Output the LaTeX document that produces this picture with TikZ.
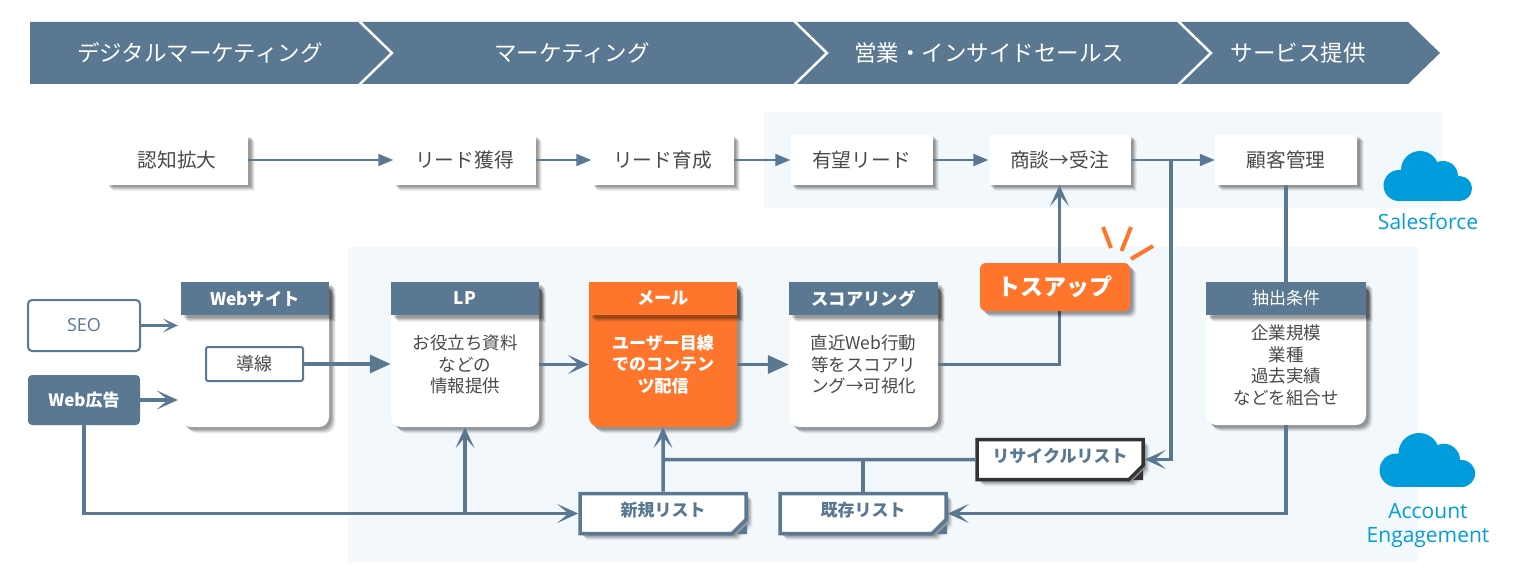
\documentclass[tikz,border=0pt]{standalone}
\usepackage{fontspec}
\setmainfont{Noto Sans CJK JP}
\newfontfamily\latinfont{Open Sans}
\usetikzlibrary{arrows.meta,shadows,shapes.misc}
\definecolor{slate}{HTML}{5A7892}
\definecolor{panelblue}{HTML}{F3F8FD}
\definecolor{accent}{HTML}{FF752B}
\definecolor{cloudblue}{HTML}{009CDB}
\definecolor{bodytext}{HTML}{4A4A4A}
\tikzstyle{softshadow} = [drop shadow={shadow xshift=6.5pt,shadow yshift=-6.5pt,opacity=.05,fill=black},
  drop shadow={shadow xshift=5.5pt,shadow yshift=-5.5pt,opacity=.08,fill=black},
  drop shadow={shadow xshift=4.5pt,shadow yshift=-4.5pt,opacity=.1,fill=black},
  drop shadow={shadow xshift=3.5pt,shadow yshift=-3.5pt,opacity=.12,fill=black},
  drop shadow={shadow xshift=2.5pt,shadow yshift=-2.5pt,opacity=.12,fill=black}]
\tikzstyle{arrow} = [->,>={Triangle[length=15pt,width=12pt]},slate,line width=2pt]
\tikzstyle{bigarrow} = [->,>={Triangle[length=21pt,width=18pt]},slate,line width=3.5pt]
\tikzstyle{barb} = [->,>={Stealth[length=21pt,width=19pt,inset=11pt]},slate,line width=3.5pt]
\tikzstyle{plain} = [slate,line width=3.5pt]
\tikzstyle{stage} = [text=white,font=\fontsize{22.5pt}{26pt}\selectfont]
\tikzstyle{stepbox} = [fill=white,softshadow,minimum width=142pt,minimum height=50pt,inner sep=0pt,
  text=bodytext,font=\fontsize{19.7pt}{24pt}\selectfont]
\tikzstyle{card} = [fill=white,softshadow,rounded corners=10pt,inner sep=0pt]
\tikzstyle{cardhead} = [fill=slate,softshadow,minimum height=33pt,inner sep=0pt,text=white,
  font=\bfseries\fontsize{17.3pt}{20pt}\selectfont]
\tikzstyle{cardtext} = [inner sep=0pt,align=center,text=bodytext,font=\fontsize{17.5pt}{21.5pt}\selectfont]
\tikzstyle{listbox} = [chamfered rectangle,chamfered rectangle corners=south east,
  chamfered rectangle xsep=7pt,chamfered rectangle ysep=7pt,fill=white,draw=slate,line width=3.5pt,
  softshadow,minimum width=166pt,minimum height=40pt,inner sep=0pt,text=slate,text height=14pt,text depth=7.5pt,
  font=\bfseries\fontsize{17pt}{20pt}\selectfont]
\tikzstyle{ray} = [accent,line width=4pt]
\tikzstyle{brand} = [text=cloudblue,align=center,font=\latinfont\fontsize{21pt}{24pt}\selectfont]
\tikzset{cloudicon/.pic={
  \fill[cloudblue] (16,-15.5) circle (15.5);
  \fill[cloudblue] (37,-31) circle (19);
  \fill[cloudblue] (60,-25) circle (15);
  \fill[cloudblue] (76.5,-12.5) circle (12.5);
  \fill[cloudblue] (16,-20) rectangle (76.5,0);
}}
\begin{document}
\begin{tikzpicture}[x=1pt,y=-1pt]
  \useasboundingbox (0,0) rectangle (1536,572);
  % panels
  \fill[panelblue] (764,112) rectangle (1442,208);
  \fill[panelblue] (348,247) rectangle (1418,562);

  % stages
  \fill[slate] (30,22) -- (358,22) -- (390,53) -- (358,84) -- (30,84) -- cycle;
  \fill[slate] (362,22) -- (793,22) -- (825,53) -- (793,84) -- (362,84) -- (394,53) -- cycle;
  \fill[slate] (797,22) -- (1177,22) -- (1209,53) -- (1177,84) -- (797,84) -- (829,53) -- cycle;
  \fill[slate] (1181,22) -- (1408,22) -- (1440,53) -- (1408,84) -- (1181,84) -- (1213,53) -- cycle;
  \node[stage] at (200,53) (digital) {デジタルマーケティング};
  \node[stage] at (572,53) (marketing) {マーケティング};
  \node[stage] at (989,53) (sales) {営業・インサイドセールス};
  \node[stage] at (1298,53) (service) {サービス提供};

  % top row
  \node[stepbox] at (177,160) (aware) {認知拡大};
  \node[stepbox] at (464.5,160) (leadget) {リード獲得};
  \node[stepbox] at (662.5,160) (leadnurture) {リード育成};
  \node[stepbox] at (861.5,160) (prospect) {有望リード};
  \node[stepbox] at (1059.5,160) (deal) {商談→受注};
  \node[stepbox] at (1286,160) (customer) {顧客管理};

  \draw[arrow] (aware) -- (leadget);
  \draw[arrow] (leadget) -- (leadnurture);
  \draw[arrow] (leadnurture) -- (prospect);
  \draw[arrow] (prospect) -- (deal);
  \draw[arrow] (deal) -- (customer);

  % sources
  \node[draw=slate,line width=2pt,rounded corners=4pt,minimum width=112pt,minimum height=51pt,inner sep=0pt,
    text=slate,font=\latinfont\fontsize{18pt}{22pt}\selectfont] at (84,325.5) (seo) {SEO};
  \node[fill=slate,rounded corners=4pt,minimum width=112pt,minimum height=50pt,inner sep=0pt,
    text=white,font=\bfseries\fontsize{17pt}{20pt}\selectfont] at (84,400) (webad) {Web広告};

  % cards
  \node[card,minimum width=148pt,minimum height=145pt] at (255,354.5) (webcard) {};
  \node[cardhead,minimum width=148pt] at (255,298.5) (webhead) {Webサイト};
  \node[draw=slate,line width=2pt,fill=white,rounded corners=2pt,minimum width=97pt,minimum height=34pt,
    inner sep=0pt,text=bodytext,font=\fontsize{18pt}{22pt}\selectfont] at (254.5,364) (guide) {導線};

  \node[card,minimum width=148pt,minimum height=145pt] at (465,354.5) (lpcard) {};
  \node[cardhead,minimum width=148pt] at (465,298.5) (lphead) {LP};
  \node[cardtext,minimum width=148pt] at (465,364.5) (lp) {お役立ち資料\\などの\\情報提供};

  \node[card,fill=accent,minimum width=148pt,minimum height=145pt] at (663,354.5) (mailcard) {};
  \node[cardhead,fill=accent,minimum width=148pt] at (663,298.5) (mailhead) {メール};
  \node[cardtext,minimum width=148pt,text=white,font=\bfseries\fontsize{17pt}{21.5pt}\selectfont]
    at (663,364.5) (mail) {ユーザー目線\\でのコンテン\\ツ配信};

  \node[card,minimum width=149pt,minimum height=145pt] at (863.5,354.5) (scorecard) {};
  \node[cardhead,minimum width=149pt] at (863.5,298.5) (scorehead) {スコアリング};
  \node[cardtext,minimum width=149pt] at (863.5,364.5) (score) {直近Web行動\\等をスコアリ\\ング→可視化};

  \node[card,minimum width=160pt,minimum height=143pt] at (1286,353.5) (condcard) {};
  \node[cardhead,minimum width=160pt,font=\fontsize{17pt}{20pt}\selectfont] at (1286,298.5) (condhead) {抽出条件};
  \node[cardtext] at (1286,365.5) (cond) {企業規模\\業種\\過去実績\\などを組合せ};

  % lists
  \node[listbox] at (663,513.5) (newlist) {新規リスト};
  \node[listbox] at (863,513.5) (oldlist) {既存リスト};
  \node[listbox,draw=black!80] at (1060,459.5) (recycle) {リサイクルリスト};
  \fill[slate] (747,524) -- (747,534) -- (737,534) -- cycle;
  \fill[slate] (947,524) -- (947,534) -- (937,534) -- cycle;
  \fill[black!80] (1143,470) -- (1143,480) -- (1133,480) -- cycle;

  % connectors
  \draw[->,>={Stealth[length=15pt,width=14pt,inset=8pt]},slate,line width=2.5pt,shorten >=3pt] (seo) -- (seo -| webcard.west);
  \draw[barb,shorten >=3pt] (webad) -- (webad -| webcard.west);
  \draw[bigarrow] (guide) -- (guide -| lp.west);
  \draw[barb] (lp) -- (mail);
  \draw[bigarrow] (mail) -- (score);
  \draw[barb] (webad) |- (newlist);
  \draw[barb] (lpcard.south |- newlist) -- (lpcard);
  \draw[barb] (newlist) -- (mailcard);
  \draw[plain] (recycle) -- (recycle -| mailcard);
  \draw[plain] (oldlist) -- (oldlist |- recycle);
  \draw[plain] (customer) -- (condhead);
  \draw[barb] (condcard) |- (oldlist);
  \coordinate (branch) at (1171,160);
  \draw[barb] (branch) |- (recycle);
  \draw[barb] (score) -| (deal);

  % toss up
  \node[fill=accent,rounded corners=6pt,softshadow,minimum width=150pt,minimum height=48pt,inner sep=0pt,
    text=white,font=\bfseries\fontsize{23pt}{26pt}\selectfont] at (1055,287) (tossup) {トスアップ};
  \draw[ray] (1103,227) -- (1111,248);
  \draw[ray] (1131,227) -- (1121.5,251);
  \draw[ray] (1153,246) -- (1131,259);

  % clouds
  \pic at (1383,201) {cloudicon};
  \node[brand] at (1428,222) (salesforce) {Salesforce};
  \pic[scale=1.08] at (1379,487) {cloudicon};
  \node[brand] at (1428,525) (engagement) {Account\\Engagement};
\end{tikzpicture}
\end{document}
